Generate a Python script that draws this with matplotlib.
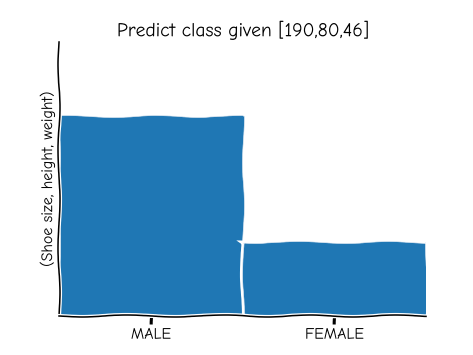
import matplotlib
matplotlib.use("Agg")
import matplotlib.pyplot as plt

# predicted class probabilities
classes = ["MALE", "FEMALE"]
probs = [0.73, 0.27]

plt.xkcd()
fig, ax = plt.subplots(figsize=(6.4, 4.8), dpi=74)

ax.bar(range(len(classes)), probs, width=1.0, color="#1f77b4", edgecolor="#e8eef5", linewidth=0.6)
ax.set_xticks(range(len(classes)))
ax.set_xticklabels(classes, fontsize=15.5)
ax.set_yticks([])
ax.set_xlim(-0.5, 1.5)
ax.set_ylim(0, 1)
ax.spines["top"].set_visible(False)
ax.spines["right"].set_visible(False)
ax.set_title("Predict class given [190,80,46]", fontsize=19)
ax.set_ylabel("(Shoe size, height, weight)", fontsize=15.5)

fig.savefig("out.png", dpi=74)
